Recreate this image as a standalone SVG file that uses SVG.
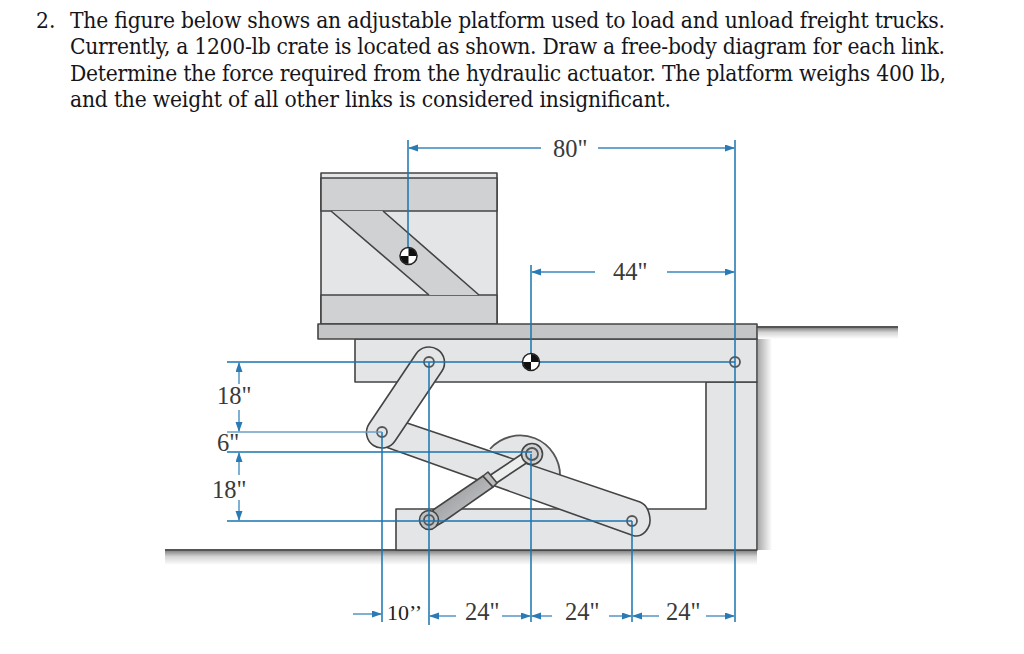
<svg xmlns="http://www.w3.org/2000/svg" width="1024" height="654" viewBox="0 0 1024 654">
<style>
.q{font-family:"DejaVu Serif Condensed","DejaVu Serif","Liberation Serif",serif;font-size:22.6px;fill:#15151a}
.d{font-family:"Liberation Serif",serif;font-size:24.500px;fill:#3a3a3a}
.s{stroke:#444;stroke-width:1.6;stroke-linejoin:round}
.l{fill:#e4e5e7}
.m{fill:#d0d1d3}
.b{stroke:#1a75b0;stroke-width:1.5;fill:none}
.a{stroke:#3a86bd;stroke-width:1.3;fill:none}
.r{fill:none;stroke:#555;stroke-width:1.8}
</style>
<defs>
<marker id="ah" markerWidth="10" markerHeight="8" refX="9" refY="3.5" orient="auto-start-reverse" markerUnits="userSpaceOnUse"><path d="M0 0L10 3.5L0 7Z" fill="#2a7ab5"/></marker>
<linearGradient id="gs" x1="0" y1="0" x2="0" y2="1"><stop offset="0" stop-color="#888"/><stop offset=".4" stop-color="#d4d4d4"/><stop offset="1" stop-color="#fff"/></linearGradient>
<linearGradient id="gr" x1="0" y1="0" x2="1" y2="0"><stop offset="0" stop-color="#aaa"/><stop offset="1" stop-color="#fff"/></linearGradient>
<linearGradient id="gc" x1="0" y1="0" x2="1" y2="1"><stop offset="0" stop-color="#8c8d90"/><stop offset="1" stop-color="#d2d3d5"/></linearGradient>
</defs>

<g id="question">
<text class="q" x="36" y="28">2.</text>
<text class="q" x="70" y="28" textLength="875" lengthAdjust="spacing">The figure below shows an adjustable platform used to load and unload freight trucks.</text>
<text class="q" x="70" y="54" textLength="875" lengthAdjust="spacing">Currently, a 1200-lb crate is located as shown. Draw a free-body diagram for each link.</text>
<text class="q" x="70" y="81" textLength="876" lengthAdjust="spacing">Determine the force required from the hydraulic actuator. The platform weighs 400 lb,</text>
<text class="q" x="70" y="107" textLength="601" lengthAdjust="spacing">and the weight of all other links is considered insignificant.</text>
</g>

<g id="ground">
<rect x="165" y="551" width="592" height="14" fill="url(#gs)"/>
<rect x="758" y="328" width="14" height="222" fill="url(#gr)"/>
<rect x="758" y="328" width="140" height="11" fill="url(#gs)"/>
<path d="M165 550H757M757 327H898" stroke="#555" stroke-width="2.2" fill="none"/>
</g>

<g id="crate">
<rect x="321" y="173" width="176" height="151" class="l s"/>
<rect x="321" y="178" width="176" height="33" class="m s"/>
<rect x="321" y="295" width="176" height="29" class="m s"/>
<path d="M331 211H383L479 295H429Z" class="m"/>
<path d="M331 211L429 295M383 211L479 295" class="s" fill="none"/>
</g>

<g id="base">
<path d="M706 382H757V550H396V509H706Z" class="l s"/>
</g>
<g id="platform">
<rect x="355" y="339" width="402" height="43" class="l s"/>
<rect x="318" y="324" width="439" height="15" fill="#c4c5c7" class="s"/>
</g>

<g id="pivot-disc">
<path d="M490 449A40 40 0 0 1 560 477L530 470Z" class="l"/>
<path d="M490 449A40 40 0 0 1 560 477" class="r"/>
</g>

<g id="long-link">
<path d="M407 423L640 502C650 506 652 522 648 528C644 535 638 537 633 535.500L383 446Z" class="l"/>
<path d="M407 423L640 502C650 506 652 522 648 528C644 535 638 537 633 535.500L383 446" class="s" fill="none"/>
</g>

<g id="upper-link">
<path d="M416 354A15.500 15.500 0 0 1 442 371L395 441A15.500 15.500 0 0 1 369 424Z" class="l s"/>
</g>

<g id="actuator">
<path d="M489 476L525 452L531 460L495 484Z" fill="#eceded" class="s"/>
<path d="M433 510L483 476L493 487L443 522L436 526Z" fill="url(#gc)" class="s"/>
<path d="M483 476L488 472L497 483L493 487Z" fill="#bbb" class="s"/>
<circle cx="429" cy="520" r="9.500" fill="#bfc0c2" class="s"/>
<circle cx="532" cy="454" r="10.500" fill="#d0d1d3" class="s"/>
</g>

<g id="pins">
<circle cx="429" cy="362" r="5" class="r"/>
<circle cx="382" cy="432" r="5" class="r"/>
<circle cx="429" cy="520" r="5" class="r"/>
<circle cx="532" cy="454" r="6" class="r"/>
<circle cx="632" cy="521" r="5" class="r"/>
<circle cx="735" cy="362" r="5" class="r"/>
</g>

<g id="connectors">
<path class="b" d="M408 140V258M531 265V367M531 454V622M735 140V622M429 362V625M382 432V622M632 521V622"/>
<path class="b" d="M227 362H735M227 452H532M227 521H632"/>
<path d="M227 432H382" stroke="#6a9fc6" stroke-width="1.500" fill="none"/>
<path class="a" d="M541 148H409" marker-end="url(#ah)"/>
<path class="a" d="M598 148H734" marker-end="url(#ah)"/>
<path class="a" d="M595 272H532" marker-end="url(#ah)"/>
<path class="a" d="M667 272H734" marker-end="url(#ah)"/>
<path class="a" d="M239 384V363" marker-end="url(#ah)"/>
<path class="a" d="M239 410V431" marker-end="url(#ah)"/>
<path class="a" d="M239 475V453" marker-end="url(#ah)"/>
<path class="a" d="M239 500V520" marker-end="url(#ah)"/>
<path class="a" d="M353 614H381" stroke-width="1.600" marker-end="url(#ah)"/>
<path class="a" d="M456 616H430" marker-end="url(#ah)"/>
<path class="a" d="M502 616H530" marker-end="url(#ah)"/>
<path class="a" d="M552 616H532" marker-end="url(#ah)"/>
<path class="a" d="M609 616H631" marker-end="url(#ah)"/>
<path class="a" d="M659 616H633" marker-end="url(#ah)"/>
<path class="a" d="M706 616H734" marker-end="url(#ah)"/>
</g>

<g id="cg-marks">
<g id="cg-crate" transform="translate(408.500 256)"><circle r="8.500" fill="#fff" stroke="#222" stroke-width="1.500"/><path d="M0 0V-8A8 8 0 0 1 8 0ZM0 0V8A8 8 0 0 1 -8 0Z" fill="#111"/></g>
<g id="cg-platform" transform="translate(531 362)"><circle r="8.500" fill="#fff" stroke="#222" stroke-width="1.500"/><path d="M0 0V-8A8 8 0 0 1 8 0ZM0 0V8A8 8 0 0 1 -8 0Z" fill="#111"/></g>
</g>

<g id="dimension-labels">
<text class="d" x="553" y="157">80"</text>
<text class="d" x="613" y="280">44"</text>
<text class="d" x="217" y="404">18"</text>
<text class="d" x="217" y="451">6"</text>
<text class="d" x="212" y="498">18"</text>
<text x="387" y="620" font-family="Liberation Serif,serif" font-size="22" fill="#222">10’’</text>
<text class="d" x="465" y="620">24"</text>
<text class="d" x="565" y="620">24"</text>
<text class="d" x="666" y="620">24"</text>
</g>
</svg>
